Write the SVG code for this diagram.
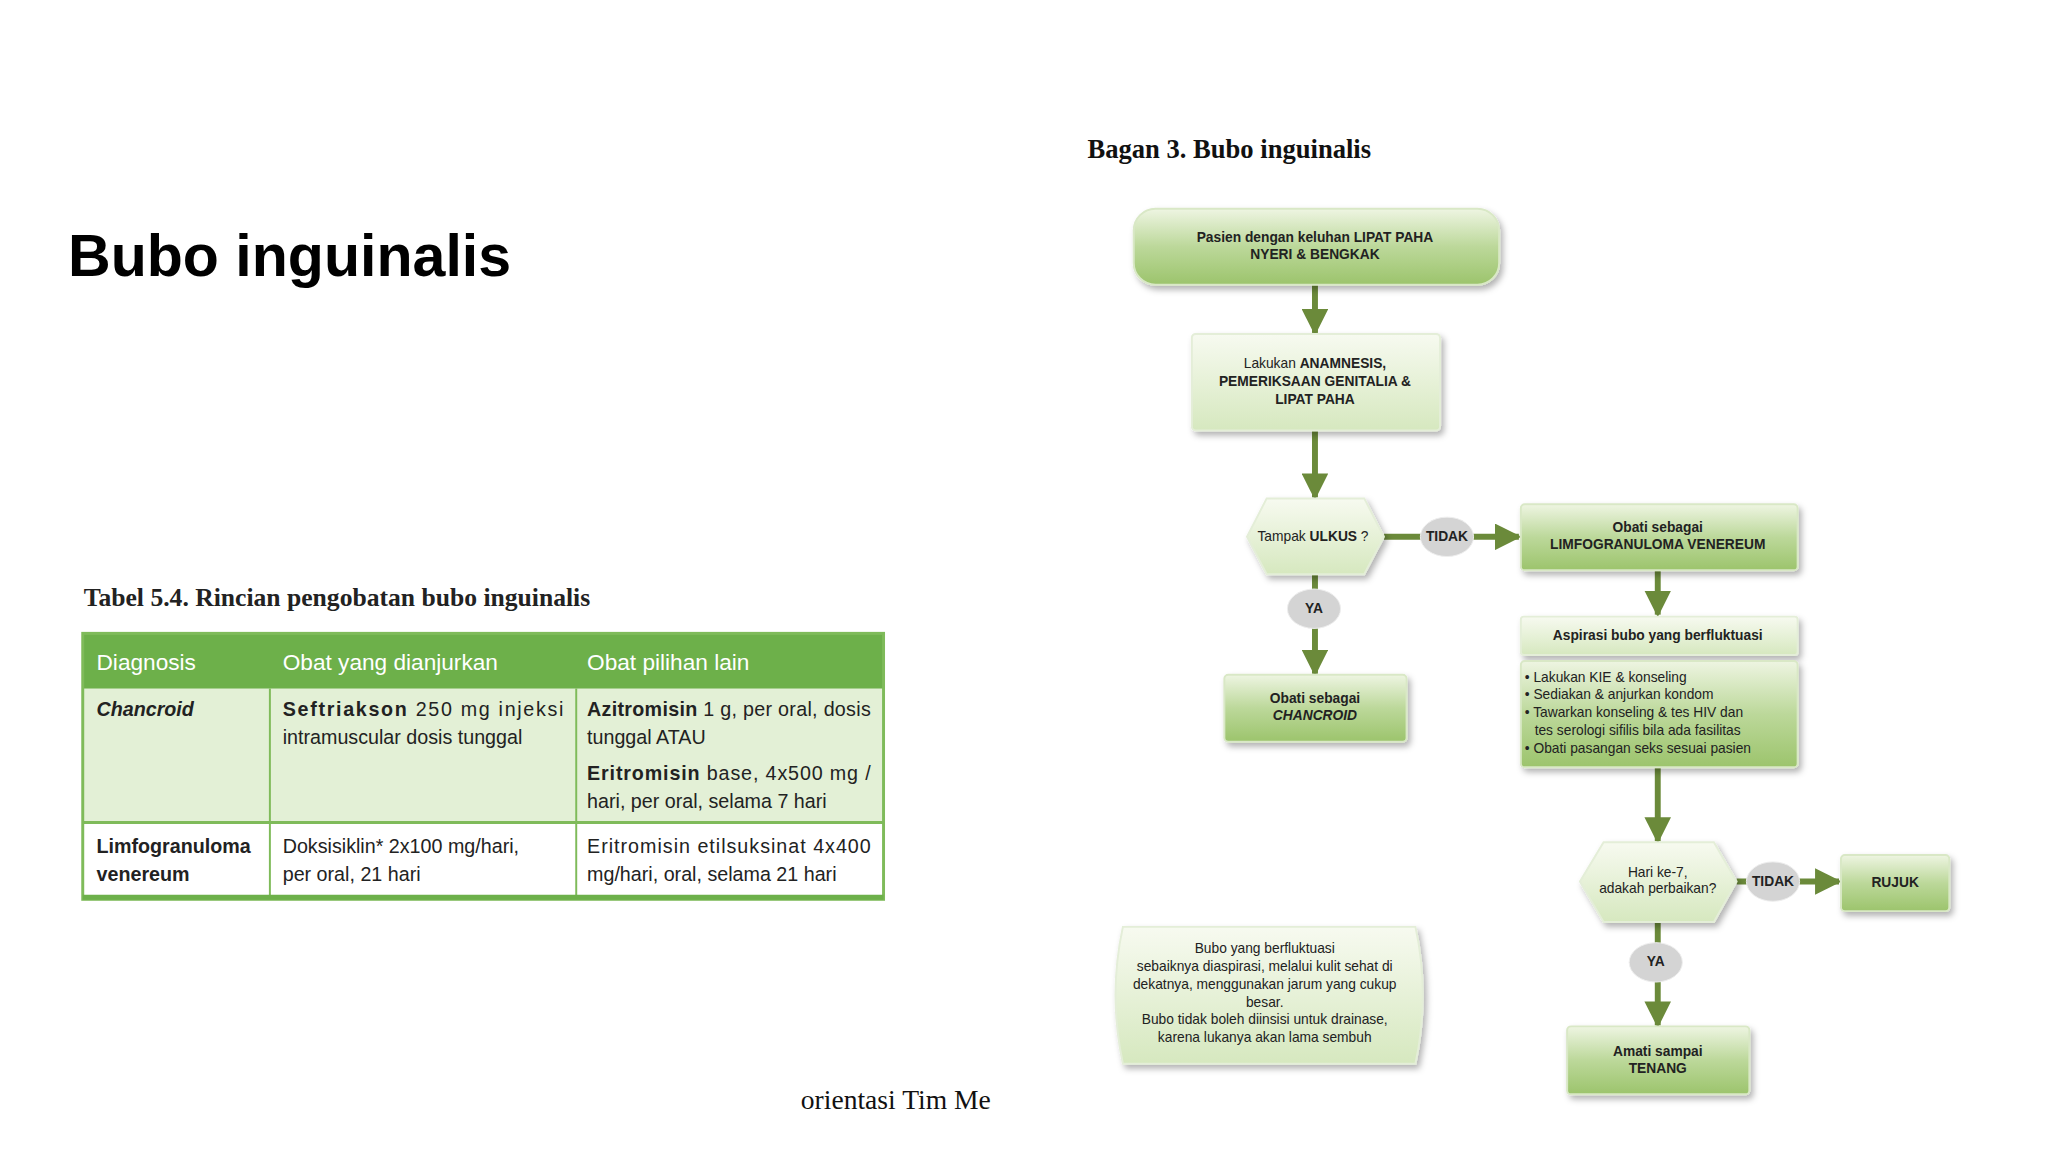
<svg xmlns="http://www.w3.org/2000/svg" width="2048" height="1152" viewBox="0 0 2048 1152">
<defs>
<linearGradient id="gD" x1="0" y1="0" x2="0" y2="1"><stop offset="0" stop-color="#eef5e2"/><stop offset="0.5" stop-color="#bcd89a"/><stop offset="1" stop-color="#9cc46c"/></linearGradient>
<linearGradient id="gL" x1="0" y1="0" x2="0" y2="1"><stop offset="0" stop-color="#f7faf0"/><stop offset="1" stop-color="#d6e8bf"/></linearGradient>
<filter id="sh" x="-10%" y="-10%" width="125%" height="135%"><feDropShadow dx="3" dy="4" stdDeviation="3" flood-color="#000" flood-opacity="0.3"/></filter>
<marker id="ah" viewBox="0 0 10 10" refX="9" refY="5" markerWidth="4.5" markerHeight="4.5" orient="auto"><path d="M0,0 L10,5 L0,10 z" fill="#6b8a3a"/></marker>
<style>
.dk{fill:url(#gD);stroke:#d9e8c6;stroke-width:2;filter:url(#sh)}
.lt{fill:url(#gL);stroke:#e4eed8;stroke-width:2;filter:url(#sh)}
.t{font-family:"Liberation Sans",Arial,sans-serif;font-size:14px;fill:#222;text-anchor:middle}
.b{font-weight:bold}
.c{stroke:#6b8a3a;stroke-width:6;fill:none}
.ca{stroke:#6b8a3a;stroke-width:6;fill:none;marker-end:url(#ah)}
.lb{fill:#d4d4d4;stroke:#eee;stroke-width:1}
.tb{font-family:"Liberation Sans",Arial,sans-serif;font-size:20px;fill:#222}
</style>
</defs>
<rect width="2048" height="1152" fill="#fff"/>
<g transform="scale(0.985)">
<text x="69" y="280" font-family="Liberation Sans,Arial,sans-serif" font-size="60" font-weight="bold" fill="#000">Bubo inguinalis</text>
<text x="1104" y="160" font-family="Liberation Serif,serif" font-size="27" font-weight="bold" fill="#111">Bagan 3. Bubo inguinalis</text>
<text x="813" y="1126" font-family="Liberation Serif,serif" font-size="28" fill="#111">orientasi Tim Me</text>

<g id="table">
<text x="85" y="615" font-family="Liberation Serif,serif" font-size="26" font-weight="bold" fill="#222">Tabel 5.4. Rincian pengobatan bubo inguinalis</text>
<rect x="84" y="643" width="813" height="270" fill="#e3f0d6"/>
<rect x="84" y="835" width="813" height="78" fill="#fff"/>
<rect x="84" y="643" width="813" height="56" fill="#6db04a"/>
<line x1="84" y1="835" x2="897" y2="835" stroke="#7fbb5a" stroke-width="3"/>
<line x1="274" y1="699" x2="274" y2="911" stroke="#7fbb5a" stroke-width="2"/>
<line x1="585" y1="699" x2="585" y2="911" stroke="#7fbb5a" stroke-width="2"/>
<rect x="84" y="643" width="813" height="270" fill="none" stroke="#7fbb5a" stroke-width="3"/>
<line x1="84" y1="911" x2="897" y2="911" stroke="#6db04a" stroke-width="5"/>
<text x="98" y="680" font-family="Liberation Sans,Arial,sans-serif" font-size="23" fill="#fff">Diagnosis</text>
<text x="287" y="680" font-family="Liberation Sans,Arial,sans-serif" font-size="23" fill="#fff">Obat yang dianjurkan</text>
<text x="596" y="680" font-family="Liberation Sans,Arial,sans-serif" font-size="23" fill="#fff">Obat pilihan lain</text>
<text x="98" y="727" class="tb" font-style="italic" font-weight="bold">Chancroid</text>
<text x="287" y="727" class="tb" textLength="285" lengthAdjust="spacing"><tspan font-weight="bold">Seftriakson</tspan> 250 mg injeksi</text>
<text x="287" y="755" class="tb">intramuscular dosis tunggal</text>
<text x="596" y="727" class="tb" textLength="288" lengthAdjust="spacing"><tspan font-weight="bold">Azitromisin</tspan> 1 g, per oral, dosis</text>
<text x="596" y="755" class="tb">tunggal ATAU</text>
<text x="596" y="792" class="tb" textLength="288" lengthAdjust="spacing"><tspan font-weight="bold">Eritromisin</tspan> base, 4x500 mg /</text>
<text x="596" y="820" class="tb">hari, per oral, selama 7 hari</text>
<text x="98" y="866" class="tb" font-weight="bold">Limfogranuloma</text>
<text x="98" y="894" class="tb" font-weight="bold">venereum</text>
<text x="287" y="866" class="tb">Doksisiklin* 2x100 mg/hari,</text>
<text x="287" y="894" class="tb">per oral, 21 hari</text>
<text x="596" y="866" class="tb" textLength="288" lengthAdjust="spacing">Eritromisin etilsuksinat 4x400</text>
<text x="596" y="894" class="tb">mg/hari, oral, selama 21 hari</text>
</g>

<g id="connectors">
<line class="ca" x1="1335" y1="289" x2="1335" y2="338"/>
<line class="ca" x1="1335" y1="437" x2="1335" y2="505"/>
<line class="ca" x1="1405" y1="545" x2="1542" y2="545"/>
<line class="ca" x1="1335" y1="583" x2="1335" y2="684"/>
<line class="ca" x1="1683" y1="579" x2="1683" y2="624"/>
<line class="ca" x1="1683" y1="779" x2="1683" y2="854"/>
<line class="ca" x1="1763" y1="895" x2="1867" y2="895"/>
<line class="ca" x1="1683" y1="936" x2="1683" y2="1041"/>
</g>
<g id="lbl1"><ellipse class="lb" cx="1469" cy="545" rx="27" ry="20"/><text x="1469" y="549" class="t b" font-size="11">TIDAK</text></g>
<g id="lbl2"><ellipse class="lb" cx="1334" cy="618" rx="27" ry="20"/><text x="1334" y="622" class="t b" font-size="11">YA</text></g>
<g id="lbl3"><ellipse class="lb" cx="1800" cy="895" rx="27" ry="20"/><text x="1800" y="899" class="t b" font-size="11">TIDAK</text></g>
<g id="lbl4"><ellipse class="lb" cx="1681" cy="977" rx="27" ry="20"/><text x="1681" y="981" class="t b" font-size="11">YA</text></g>

<g id="n1"><rect class="dk" x="1151" y="212" width="371" height="77" rx="22"/>
<text x="1335" y="246" class="t b">Pasien dengan keluhan LIPAT PAHA</text><text x="1335" y="263" class="t b">NYERI &amp; BENGKAK</text></g>
<g id="n2"><rect class="lt" x="1210" y="339" width="252" height="98" rx="4"/>
<text x="1335" y="374" class="t">Lakukan <tspan class="b">ANAMNESIS,</tspan></text><text x="1335" y="392" class="t b">PEMERIKSAAN GENITALIA &amp;</text><text x="1335" y="410" class="t b">LIPAT PAHA</text></g>
<g id="n3"><polygon class="lt" points="1286,506 1385,506 1405,545 1385,583 1286,583 1266,545"/>
<text x="1333" y="549" class="t">Tampak <tspan class="b">ULKUS</tspan> ?</text></g>
<g id="n4"><rect class="dk" x="1544" y="512" width="281" height="67" rx="4"/>
<text x="1683" y="540" class="t b">Obati sebagai</text><text x="1683" y="557" class="t b">LIMFOGRANULOMA VENEREUM</text></g>
<g id="n5"><rect class="dk" x="1243" y="685" width="185" height="68" rx="4"/>
<text x="1335" y="714" class="t b">Obati sebagai</text><text x="1335" y="731" class="t b" font-style="italic">CHANCROID</text></g>
<g id="n6"><rect class="lt" x="1544" y="626" width="281" height="39" rx="3"/>
<text x="1683" y="650" class="t b">Aspirasi bubo yang berfluktuasi</text></g>
<g id="n7"><rect class="dk" x="1544" y="671" width="281" height="108" rx="4"/>
<g font-family="Liberation Sans,Arial,sans-serif" font-size="14" fill="#222">
<text x="1548" y="692">• Lakukan KIE &amp; konseling</text>
<text x="1548" y="710">• Sediakan &amp; anjurkan kondom</text>
<text x="1548" y="728">• Tawarkan konseling &amp; tes HIV dan</text>
<text x="1558" y="746">tes serologi sifilis bila ada fasilitas</text>
<text x="1548" y="764">• Obati pasangan seks sesuai pasien</text></g></g>
<g id="n8"><polygon class="lt" points="1628,855 1740,855 1763,895 1740,936 1628,936 1604,895"/>
<text x="1683" y="890" class="t">Hari ke-7,</text><text x="1683" y="907" class="t">adakah perbaikan?</text></g>
<g id="n9"><rect class="dk" x="1869" y="868" width="110" height="57" rx="4"/>
<text x="1924" y="900" class="t b">RUJUK</text></g>
<g id="n10"><rect class="dk" x="1591" y="1042" width="185" height="69" rx="4"/>
<text x="1683" y="1072" class="t b">Amati sampai</text><text x="1683" y="1089" class="t b">TENANG</text></g>
<g id="n11"><path class="lt" d="M1140,941 H1437 Q1452,1010 1437,1080 H1140 Q1125,1010 1140,941 Z"/>
<text x="1284" y="968" class="t">Bubo yang berfluktuasi</text>
<text x="1284" y="986" class="t">sebaiknya diaspirasi, melalui kulit sehat di</text>
<text x="1284" y="1004" class="t">dekatnya, menggunakan jarum yang cukup</text>
<text x="1284" y="1022" class="t">besar.</text>
<text x="1284" y="1040" class="t">Bubo tidak boleh diinsisi untuk drainase,</text>
<text x="1284" y="1058" class="t">karena lukanya akan lama sembuh</text></g>
</g>
</svg>
